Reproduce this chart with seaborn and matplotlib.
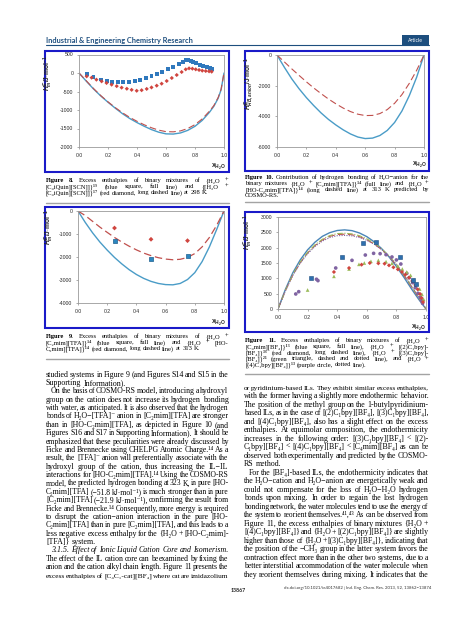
import matplotlib
matplotlib.use("Agg")
import matplotlib.pyplot as plt
import seaborn as sns
import pandas as pd
from matplotlib.patches import Rectangle
from matplotlib.lines import Line2D

# ------------------------------------------------------------------ data
X_TICKS = [0.0, 0.2, 0.4, 0.6, 0.8, 1.0]
X_TICK_LABELS = ["0.0", "0.2", "0.4", "0.6", "0.8", "1.0"]

# Figure 8
f8_line_x = [0, 0.05, 0.1, 0.15, 0.2, 0.25, 0.3, 0.35, 0.4, 0.45, 0.5, 0.55, 0.6, 0.65, 0.7, 0.75, 0.8, 0.85, 0.9, 0.93, 0.96, 0.98, 1.0]
f8_blue_line = [0, -220, -430, -620, -790, -950, -1100, -1230, -1340, -1440, -1530, -1600, -1645, -1650, -1620, -1550, -1440, -1280, -1060, -900, -680, -450, 0]
f8_red_line = [0, -210, -420, -610, -780, -935, -1075, -1200, -1305, -1400, -1480, -1545, -1585, -1590, -1565, -1500, -1395, -1240, -1030, -880, -660, -440, 0]
f8_sq_x = [0.053, 0.10, 0.15, 0.19, 0.225, 0.267, 0.306, 0.347, 0.386, 0.42, 0.462, 0.50, 0.536, 0.575, 0.611, 0.65, 0.69, 0.72, 0.738, 0.754, 0.77, 0.788, 0.81, 0.834, 0.857, 0.88, 0.903, 0.915]
f8_sq_y = [-30, -110, -175, -215, -243, -252, -252, -243, -216, -180, -126, -72, -18, 36, 99, 165, 240, 305, 350, 360, 330, 300, 262, 225, 190, 155, 128, 105]
f8_di_x = [0.053, 0.087, 0.12, 0.156, 0.19, 0.225, 0.26, 0.294, 0.33, 0.363, 0.398, 0.432, 0.467, 0.50, 0.536, 0.57, 0.605, 0.64, 0.674, 0.708, 0.736, 0.759, 0.782, 0.805, 0.828, 0.85, 0.874, 0.897, 0.915]
f8_di_y = [-90, -126, -180, -225, -270, -315, -355, -395, -425, -455, -480, -465, -430, -390, -342, -288, -216, -135, -54, 27, 99, 126, 117, 99, 81, 63, 54, 45, 36]

# Figure 9
f9_line_x = [0, 0.05, 0.1, 0.15, 0.2, 0.25, 0.3, 0.35, 0.4, 0.45, 0.5, 0.55, 0.6, 0.65, 0.7, 0.75, 0.8, 0.85, 0.9, 0.95, 1.0]
f9_blue_line = [0, -500, -950, -1350, -1700, -2020, -2300, -2550, -2760, -2930, -3060, -3150, -3200, -3210, -3150, -2980, -2680, -2200, -1560, -800, 0]
f9_red_line = [0, -200, -450, -700, -930, -1150, -1350, -1530, -1690, -1830, -1940, -2030, -2090, -2120, -2100, -2020, -1850, -1560, -1150, -620, 0]
f9_sq_x = [0.25, 0.50, 0.75]
f9_sq_y = [-1300, -2080, -1960]
f9_di_x = [0.25, 0.50, 0.75]
f9_di_y = [-740, -1230, -1290]

# Figure 10
f10_line_x = [0, 0.05, 0.1, 0.15, 0.2, 0.25, 0.3, 0.35, 0.4, 0.45, 0.5, 0.55, 0.6, 0.65, 0.7, 0.75, 0.8, 0.85, 0.9, 0.95, 1.0]
f10_full = [0, -800, -1550, -2200, -2780, -3300, -3780, -4200, -4560, -4880, -5150, -5350, -5450, -5420, -5250, -4920, -4400, -3650, -2650, -1450, 0]
f10_dashed = [0, -450, -900, -1330, -1750, -2150, -2520, -2870, -3180, -3460, -3690, -3860, -3950, -3940, -3820, -3560, -3150, -2580, -1850, -1000, 0]

# Figure 11
f11_line_x = [0, 0.05, 0.1, 0.15, 0.2, 0.25, 0.3, 0.35, 0.4, 0.45, 0.5, 0.55, 0.6, 0.65, 0.7, 0.75, 0.8, 0.85, 0.9, 0.95, 1.0]
f11_blue_line = [0, 640, 1180, 1600, 1930, 2180, 2370, 2490, 2560, 2580, 2555, 2480, 2360, 2190, 1970, 1700, 1390, 1040, 670, 320, 0]
f11_red_line = [0, 600, 1110, 1510, 1830, 2070, 2250, 2370, 2430, 2440, 2420, 2360, 2260, 2120, 1940, 1710, 1430, 1100, 740, 370, 0]
f11_green_line = [0, 610, 1130, 1530, 1850, 2095, 2275, 2395, 2460, 2470, 2450, 2390, 2290, 2150, 1965, 1735, 1455, 1120, 760, 380, 0]
f11_purple_line = [0, 590, 1090, 1490, 1800, 2040, 2215, 2330, 2390, 2400, 2385, 2330, 2240, 2110, 1940, 1720, 1450, 1130, 770, 390, 0]
f11_sq_x = [0.225, 0.43, 0.575, 0.665, 0.825, 0.915, 0.93]
f11_sq_y = [1020, 1690, 2150, 2170, 1710, 950, 810]
f11_ci_x = [0.12, 0.14, 0.26, 0.27, 0.39, 0.50, 0.59, 0.646, 0.69, 0.73, 0.77, 0.80, 0.83, 0.87, 0.887, 0.91, 0.928, 0.946, 0.96, 0.97, 0.977]
f11_ci_y = [490, 565, 970, 925, 1337, 1587, 1760, 1815, 1804, 1772, 1696, 1600, 1467, 1163, 1022, 859, 696, 511, 380, 272, 185]
f11_di_x = [0.378, 0.48, 0.565, 0.62, 0.678, 0.72, 0.75, 0.78, 0.81, 0.838, 0.86, 0.885, 0.907, 0.928, 0.944, 0.96, 0.97, 0.98]
f11_di_y = [1207, 1337, 1446, 1500, 1489, 1478, 1424, 1359, 1293, 1207, 1120, 1022, 913, 783, 641, 489, 359, 228]
f11_tr_x = [0.20, 0.378, 0.48, 0.547, 0.583, 0.628, 0.678, 0.73, 0.77, 0.81, 0.84, 0.87, 0.896, 0.919, 0.94, 0.957, 0.973, 0.984]
f11_tr_y = [620, 1065, 1304, 1457, 1500, 1554, 1587, 1543, 1489, 1402, 1304, 1207, 1098, 957, 815, 652, 478, 315]

# ------------------------------------------------------------------ text
HEADER = "Industrial & Engineering Chemistry Research"
BADGE = "Article"
FOOTER = "dx.doi.org/10.1021/ie4017682 | Ind. Eng. Chem. Res. 2013, 52, 13862\u221213874"
PAGE_NO = "13867"

CAP8 = [
    "*Figure *8. Excess enthalpies of binary mixtures of {H\u2082O +",
    "[C\u2084iQuin][SCN]]}\u00b9\u2079 (blue square, full line) and {[H\u2082O +",
    "[C\u2084iQuin][SCN]]}\u00b9\u2077 (red diamond, long dashed line) at 298 K.|",
]
CAP9 = [
    "*Figure *9. Excess enthalpies of binary mixtures of {H\u2082O +",
    "[C\u2082mim][TFA]}\u00b9\u2074 (blue square, full line) and {H\u2082O + [HO-",
    "C\u2082mim][TFA]}\u00b9\u2074 (red diamond, long dashed line) at 313 K.|",
]
CAP10 = [
    "*Figure *10. Contribution of hydrogen bonding of H\u2082O\u2212anion for the",
    "binary mixtures {H\u2082O + [C\u2082mim][TFA]}\u00b9\u2074 (full line) and {H\u2082O +",
    "[HO-C\u2082mim][TFA]}\u00b9\u2074 (long dashed line) at 313 K predicted by",
    "COSMO-RS.|",
]
CAP11 = [
    "*Figure *11. Excess enthalpies of binary mixtures of {H\u2082O +",
    "[C\u2084mim][BF\u2084]}\u00b9\u00b3 (blue square, full line), {H\u2082O + [(2)C\u2081bpy]-",
    "[BF\u2084]}\u00b3\u2076 (red diamond, long dashed line), {H\u2082O + [(3)C\u2081bpy]-",
    "[BF\u2084]}\u00b2\u00b9 (green triangle, dashed and dotted line), and {H\u2082O +",
    "[(4)C\u2081bpy][BF\u2084]}\u00b9\u00b3 (purple circle, dotted line).|",
]
BODY_LEFT = [
    "studied systems in Figure 9 (and Figures S14 and S15 in the",
    "Supporting Information).|",
    ">On the basis of COSMO-RS model, introducing a hydroxyl",
    "group on the cation does not increase its hydrogen bonding",
    "with water, as anticipated. It is also observed that the hydrogen",
    "bonds of H\u2082O\u2212[TFA]\u207b anion in [C\u2082mim][TFA] are stronger",
    "than in [HO-C\u2082mim][TFA], as depicted in Figure 10 (and",
    "Figures S16 and S17 in Supporting Information). It should be",
    "emphasized that these peculiarities were already discussed by",
    "Ficke and Brennecke using CHELPG Atomic Charge.\u00b9\u2074 As a",
    "result, the [TFA]\u207b anion will preferentially associate with the",
    "hydroxyl group of the cation, thus increasing the IL\u2212IL",
    "interactions for [HO-C\u2082mim][TFA].\u00b9\u2074 Using the COSMO-RS",
    "model, the predicted hydrogen bonding at 323 K, in pure [HO-",
    "C\u2082mim][TFA] (\u221251.8 kJ\u00b7mol\u207b\u00b9) is much stronger than in pure",
    "[C\u2082mim][TFA] (\u221221.9 kJ\u00b7mol\u207b\u00b9), confirming the result from",
    "Ficke and Brennecke.\u00b9\u2074 Consequently, more energy is required",
    "to disrupt the cation\u2212anion interaction in the pure [HO-",
    "C\u2082mim][TFA] than in pure [C\u2082mim][TFA], and this leads to a",
    "less negative excess enthalpy for the {H\u2082O + [HO-C\u2082mim]-",
    "[TFA]} system.|",
    ">~3.1.5. Effect of Ionic Liquid Cation Core and Isomerism.",
    "The effect of the IL cation core can be examined by fixing the",
    "anion and the cation alkyl chain length. Figure 11 presents the",
    "excess enthalpies of [C\u2084C\u2081-cat][BF\u2084] where cat are imidazolium",
]
BODY_RIGHT = [
    "or pyridinium-based ILs. They exhibit similar excess enthalpies,",
    "with the former having a slightly more endothermic behavior.",
    "The position of the methyl group on the 1-butylpyridinium-",
    "based ILs, as in the case of [(2)C\u2081bpy][BF\u2084], [(3)C\u2081bpy][BF\u2084],",
    "and [(4)C\u2081bpy][BF\u2084], also has a slight effect on the excess",
    "enthalpies. At equimolar composition, the endothermicity",
    "increases in the following order: [(3)C\u2081bpy][BF\u2084] < [(2)-",
    "C\u2081bpy][BF\u2084] < [(4)C\u2081bpy][BF\u2084] < [C\u2084mim][BF\u2084] as can be",
    "observed both experimentally and predicted by the COSMO-",
    "RS method.|",
    ">For the [BF\u2084]-based ILs, the endothermicity indicates that",
    "the H\u2082O\u2212cation and H\u2082O\u2212anion are energetically weak and",
    "could not compensate for the loss of H\u2082O\u2212H\u2082O hydrogen",
    "bonds upon mixing. In order to regain the lost hydrogen",
    "bonding network, the water molecules tend to use the energy of",
    "the system to reorient themselves.\u2074\u00b9,\u2074\u00b3 As can be observed from",
    "Figure 11, the excess enthalpies of binary mixtures {H\u2082O +",
    "[(4)C\u2081bpy][BF\u2084]} and {H\u2082O + [(2)C\u2081bpy][BF\u2084]} are slightly",
    "higher than those of {H\u2082O + [(3)C\u2081bpy][BF\u2084]}, indicating that",
    "the position of the \u2212CH\u2083 group in the latter system favors the",
    "contraction effect more than in the other two systems, due to a",
    "better interstitial accommodation of the water molecule when",
    "they reorient themselves during mixing. It indicates that the",
]

YLAB_HM = r"$H_{m}^{E}/\mathrm{J{\cdot}mol}^{-1}$"
YLAB_HB = r"$H_{HB,anion}^{E}/\mathrm{J{\cdot}mol}^{-1}$"
XLAB = r"$\mathrm{x}_{\mathrm{H_2O}}$"

# ------------------------------------------------------------------ style
W, H = 474, 620
sns.set_theme(style="white")
plt.rcParams.update({
    "font.family": ["Liberation Sans", "DejaVu Sans"],
    "axes.unicode_minus": False,
    "mathtext.fontset": "custom",
    "mathtext.rm": "Liberation Sans:bold",
    "mathtext.it": "Liberation Sans:italic:bold",
    "mathtext.bf": "Liberation Sans:bold",
})
SERIF = ["Liberation Serif", "DejaVu Serif"]
SANS = ["Lato", "DejaVu Sans"]
BLUE_BOX = "#1a1ac8"
NAVY = "#1d4e7e"

fig = plt.figure(figsize=(W / 100, H / 100), dpi=100)
fig.patch.set_facecolor("white")
renderer = fig.canvas.get_renderer()


def X(x):
    return x / W


def Y(y):
    return 1 - y / H


_cache = {}


def measure(s, fs, family, weight="normal", style="normal"):
    key = (s, round(fs, 4), tuple(family), weight, style)
    if key not in _cache:
        t = fig.text(0, 0, s, fontsize=fs, family=family, fontweight=weight, fontstyle=style)
        _cache[key] = t.get_window_extent(renderer).width
        t.remove()
    return _cache[key]


def parse(line):
    indent = line.startswith(">")
    if indent:
        line = line[1:]
    last = line.endswith("|")
    if last:
        line = line[:-1]
    italic = line.startswith("~")
    if italic:
        line = line[1:]
    words = []
    for w in line.split(" "):
        bold = w.startswith("*")
        if bold:
            w = w[1:]
        words.append((w, bold))
    return indent, last, italic, words


def block(lines, x0, x1, y0, dy, fs, indent_px, color="#000000", min_gap_em=0.13):
    for i, line in enumerate(lines):
        indent, last, italic, words = parse(line)
        st = "italic" if italic else "normal"
        start = x0 + (indent_px if indent else 0)
        avail = x1 - start
        n = len(words)
        fs_l = fs

        def widths(f):
            return [measure(s, f, SERIF, "bold" if b else "normal", st) for s, b in words]

        ws = widths(fs_l)
        em = fs_l * 100 / 72
        need = sum(ws) + (n - 1) * min_gap_em * em
        if need > avail:
            fs_l = fs * avail / need * 0.995
            ws = widths(fs_l)
            em = fs_l * 100 / 72
        if last or n == 1:
            gap = min(0.25 * em, (avail - sum(ws)) / max(n - 1, 1))
        else:
            gap = (avail - sum(ws)) / (n - 1)
        x = start
        base = y0 + i * dy + 0.32 * fs * 100 / 72
        for (s, b), wd in zip(words, ws):
            fig.text(X(x), Y(base), s, fontsize=fs_l, family=SERIF,
                     fontweight="bold" if b else "normal", fontstyle=st,
                     va="baseline", ha="left", color=color)
            x += wd + gap


def fig_line(x0, x1, y, color, lw):
    fig.add_artist(Line2D([X(x0), X(x1)], [Y(y), Y(y)], transform=fig.transFigure, color=color, lw=lw))


def fig_rect(l, t, r, b, **kw):
    fig.add_artist(Rectangle((X(l), Y(b)), (r - l) / W, (b - t) / H, transform=fig.transFigure, **kw))


def make_axes(l, r, t, b):
    return fig.add_axes([X(l), Y(b), (r - l) / W, (b - t) / H])


def style_axes(ax, ylim, yticks):
    ax.set_xlim(0, 1)
    ax.set_ylim(*ylim)
    ax.set_xticks(X_TICKS)
    ax.set_xticklabels(X_TICK_LABELS)
    ax.set_yticks(yticks)
    ax.set_yticklabels([str(v) for v in yticks])
    ax.set_xlabel("")
    ax.set_ylabel("")
    ax.set_facecolor("white")
    for s in ax.spines.values():
        s.set_color("#9a9a9a")
        s.set_linewidth(0.6)
    ax.tick_params(axis="both", which="both", direction="out", length=1.5, width=0.5,
                   color="#8a8a8a", labelsize=3.7, labelcolor="#2a2a2a", pad=2.6,
                   bottom=True, left=True)
    if ax.get_legend():
        ax.get_legend().remove()


def line(ax, x, y, color, ls="-", lw=1.0):
    sns.lineplot(x=x, y=y, ax=ax, color=color, linestyle=ls, lw=lw, estimator=None, sort=False)


def pts(ax, x, y, marker, color, s, ec="none", lw=0.0):
    sns.scatterplot(x=x, y=y, ax=ax, marker=marker, color=color, s=s, edgecolor=ec, linewidth=lw, zorder=3)


C_LBLUE = "#4a9cc7"
C_RED = "#c0504d"
C_SQ = "#2f78bd"
C_GREEN = "#9bbb59"
C_PURPLE = "#8064a2"
YLAB_FS = 4.8
XLAB_FS = 5.0

# ------------------------------------------------------------------ header
hw = measure(HEADER, 5.0, SANS, "bold")
fig.text(X(46), Y(40.2), HEADER, fontsize=5.0 * 147 / hw, family=SANS,
         fontweight="bold", color=NAVY, va="center", ha="left")
fig_rect(402, 35.5, 428.5, 44.5, facecolor=NAVY, edgecolor="none")
fig.text(X(415.2), Y(40.2), BADGE, fontsize=3.8, family=SANS, color="white",
         va="center", ha="center")
fig_line(46, 428.5, 44.8, NAVY, 0.8)

# ------------------------------------------------------------------ Figure 8
ax8 = make_axes(79, 224, 54.5, 147)
line(ax8, f8_line_x, f8_blue_line, C_LBLUE, "-", 1.0)
line(ax8, f8_line_x, f8_red_line, C_RED, (0, (6, 3)), 0.8)
pts(ax8, f8_sq_x, f8_sq_y, "s", C_SQ, 8)
pts(ax8, f8_di_x, f8_di_y, "D", "#d0453f", 4.5)
style_axes(ax8, (-2000, 500), [500, 0, -500, -1000, -1500, -2000])
fig.text(X(48), Y(55), YLAB_HM, rotation=90, fontsize=YLAB_FS, ha="center", va="top")
fig.text(X(219), Y(167), XLAB, fontsize=XLAB_FS, ha="center", va="center")
fig_rect(44.5, 51, 228.5, 172, fill=False, edgecolor=BLUE_BOX, lw=1.5)

# ------------------------------------------------------------------ Figure 9
ax9 = make_axes(78, 224, 211, 303)
line(ax9, f9_line_x, f9_blue_line, C_LBLUE, "-", 1.0)
line(ax9, f9_line_x, f9_red_line, C_RED, (0, (6, 3)), 0.9)
pts(ax9, f9_sq_x, f9_sq_y, "s", "#2c86c0", 12, ec="#1b5f8e", lw=0.5)
pts(ax9, f9_di_x, f9_di_y, "D", "#d0453f", 6)
style_axes(ax9, (-4000, 0), [0, -1000, -2000, -3000, -4000])
fig.text(X(49.5), Y(209), YLAB_HM, rotation=90, fontsize=YLAB_FS, ha="center", va="top")
fig.text(X(219), Y(323), XLAB, fontsize=XLAB_FS, ha="center", va="center")
fig_rect(44.5, 206.5, 228.5, 328, fill=False, edgecolor=BLUE_BOX, lw=1.5)

# ------------------------------------------------------------------ Figure 10
ax10 = make_axes(277, 424, 55, 147)
line(ax10, f10_line_x, f10_full, C_LBLUE, "-", 1.0)
line(ax10, f10_line_x, f10_dashed, C_RED, (0, (6, 3)), 0.8)
style_axes(ax10, (-6000, 0), [0, -2000, -4000, -6000])
fig.text(X(249), Y(57), YLAB_HB, rotation=90, fontsize=YLAB_FS, ha="center", va="top")
fig.text(X(420), Y(165), XLAB, fontsize=XLAB_FS, ha="center", va="center")
fig_rect(244.5, 51, 429, 170.5, fill=False, edgecolor=BLUE_BOX, lw=1.5)

# ------------------------------------------------------------------ Figure 11
ax11 = make_axes(278, 426, 217, 309)
line(ax11, f11_line_x, f11_blue_line, "#4a86b8", "-", 1.0)
line(ax11, f11_line_x, f11_red_line, C_RED, (0, (6, 3)), 0.8)
line(ax11, f11_line_x, f11_green_line, C_GREEN, (0, (5, 1.5, 1, 1.5)), 0.8)
line(ax11, f11_line_x, f11_purple_line, C_PURPLE, (0, (1, 1.2)), 0.8)
pts(ax11, f11_ci_x, f11_ci_y, "o", C_PURPLE, 7)
pts(ax11, f11_tr_x, f11_tr_y, "^", C_GREEN, 7)
pts(ax11, f11_di_x, f11_di_y, "D", "#d0453f", 4.5)
pts(ax11, f11_sq_x, f11_sq_y, "s", "#2e6fae", 10, ec="#1d4f80", lw=0.4)
style_axes(ax11, (0, 3000), [0, 500, 1000, 1500, 2000, 2500, 3000])
fig.text(X(248), Y(214), YLAB_HM, rotation=90, fontsize=YLAB_FS, ha="center", va="top")
fig.text(X(419), Y(328), XLAB, fontsize=XLAB_FS, ha="center", va="center")
fig_rect(244.5, 211.5, 429, 332, fill=False, edgecolor=BLUE_BOX, lw=1.5)

# ------------------------------------------------------------------ captions
CAP_FS = 4.7
cap_dy = 6.1
block(CAP8, 45.5, 228.5, 180, cap_dy, CAP_FS, 0)
block(CAP9, 45.5, 228.5, 336, cap_dy, CAP_FS, 0)
block(CAP10, 245, 428.5, 177, cap_dy, CAP_FS, 0)
block(CAP11, 245, 428.5, 340, cap_dy, CAP_FS, 0)
fig_line(45.5, 228.5, 202.5, "#a3a3a3", 1.0)
fig_line(45.5, 228.5, 358.5, "#a3a3a3", 1.0)
fig_line(245, 428.5, 202, "#a3a3a3", 1.0)
fig_line(245, 428.5, 374, "#a3a3a3", 1.0)

# ------------------------------------------------------------------ body text
BODY_FS = 5.7
block(BODY_LEFT, 46, 228.5, 374, 8.375, BODY_FS, 5)
block(BODY_RIGHT, 244, 428.5, 387, 8.5, BODY_FS, 5)

# ------------------------------------------------------------------ footer
fig.text(X(238.5), Y(590), PAGE_NO, fontsize=3.8, family=SANS, fontweight="bold",
         color="#222222", ha="center", va="center")
fw = measure(FOOTER, 3.0, SANS)
fig.text(X(284), Y(588.5), FOOTER, fontsize=3.0 * 144 / fw, family=SANS,
         color="#333333", ha="left", va="center")

fig.savefig("out.png", dpi=100, facecolor="white")
